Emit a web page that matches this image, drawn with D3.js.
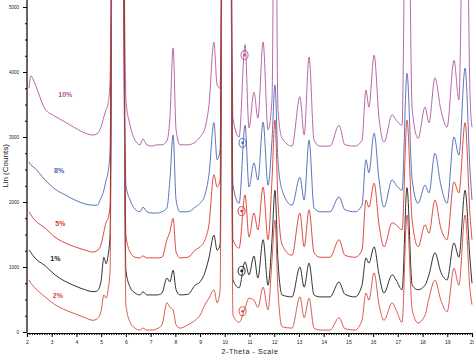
<!DOCTYPE html>
<html>
<head>
<meta charset="utf-8">
<script src="https://cdn.jsdelivr.net/npm/d3@7"></script>
<style>
  body { margin: 0; background: #fff; }
  svg { display: block; }
  text { font-family: Arial, "Liberation Sans", sans-serif; }
</style>
</head>
<body>
<div id="chart-area"></div>
<script>
// 2-theta positions (deg) shared by all five scans
const twoTheta = [2.08,2.16,2.32,2.73,3.13,3.54,3.94,4.35,4.67,4.83,4.99,5.11,5.20,5.28,5.36,5.48,5.64,5.84,6.00,6.17,
  6.37,6.57,6.69,6.85,7.06,7.26,7.46,7.66,7.78,7.91,8.03,8.19,8.51,8.80,9.00,9.20,9.36,9.56,9.69,9.81,
  9.93,10.09,10.21,10.33,10.58,10.82,10.98,11.18,11.34,11.55,11.75,11.91,12.03,12.15,12.32,12.72,13.04,13.21,13.41,13.61,
  13.85,14.26,14.62,14.86,15.27,15.55,15.71,15.83,16.04,16.24,16.44,16.77,16.93,17.17,17.37,17.58,17.82,18.10,18.26,18.50,
  18.74,18.99,19.27,19.47,19.72,19.92,20.0];

// Lin (Counts), already stacked as plotted
const counts10 = [3750,3940,3820,3430,3320,3230,3140,3060,3030,3050,3150,3310,3420,3510,3880,9000,9000,9000,3570,3180,
  2950,2880,2970,2880,2860,2880,2880,2940,3290,4370,3110,2880,2880,2920,3000,3140,3490,4460,3800,3750,
  9000,9000,9000,3290,3000,4420,3140,3690,3290,4460,3110,3570,9000,3420,2980,2860,3620,3030,4230,2950,
  2860,2860,3180,2880,2860,2950,3720,3460,4260,3290,2920,3340,3260,3180,9000,3420,2980,3460,3220,3910,
  3420,3150,4180,3570,9000,3650,3150];
const counts8 = [2620,2570,2520,2340,2200,2110,2030,1970,1950,1950,2060,2180,2340,2460,2800,9000,9000,9000,2260,2030,
  1890,1850,1920,1850,1830,1830,1850,1910,2340,3030,2030,1850,1850,1920,1980,2110,2420,3220,2650,2800,
  9000,9000,9000,2260,1980,3180,2230,2600,2340,3230,2260,2950,3800,2650,2180,1950,2380,2030,2950,1910,
  1850,1850,2080,1880,1850,1950,2650,2450,3060,2340,1920,2340,2260,2180,3980,2340,1980,2260,2140,2750,
  2260,1980,3000,2720,4060,2490,2030];
const counts5 = [1850,1800,1720,1600,1460,1370,1310,1260,1230,1250,1340,1540,1690,1750,1950,9000,9000,9000,1490,1230,
  1150,1140,1170,1140,1140,1140,1150,1420,1540,1750,1230,1140,1150,1260,1310,1420,1650,2420,2230,2340,
  9000,9000,9000,1420,1290,2110,1460,1830,1570,2230,1420,2340,3260,2030,1340,1180,1830,1310,1880,1220,
  1150,1150,1420,1180,1150,1260,2030,1920,2290,1650,1310,1680,1650,1570,3260,1720,1310,1650,1520,2030,
  1600,1420,2310,2140,3220,1800,1420];
const counts1 = [1260,1220,1140,1020,880,780,710,650,620,630,770,1150,1050,1180,1490,9000,9000,9000,950,690,
  600,570,620,570,570,570,600,830,770,950,650,570,580,720,770,920,1140,1490,1260,1340,
  9000,9000,9000,800,680,1080,880,1170,830,1420,720,1420,2180,1110,570,540,1000,690,1060,570,
  540,540,770,580,540,720,1140,1060,1310,880,600,880,800,650,2220,720,650,720,880,1220,
  920,800,1370,1150,2180,1110,750];
const counts2 = [800,750,680,540,420,340,280,220,180,200,310,570,520,650,950,9000,9000,9000,420,150,
  60,30,60,30,30,50,110,450,380,340,110,60,110,180,260,420,520,650,450,650,
  9000,9000,9000,260,150,370,520,490,380,690,340,1110,1720,650,80,60,540,220,520,60,
  30,30,220,50,30,180,600,490,910,420,180,450,340,150,1800,340,140,260,520,800,
  490,310,980,720,1800,650,420];

const labels = ["10%", "8%", "5%", "1%", "2%"];
const colors = ["#b0579f", "#4a64b4", "#d8372c", "#1c1c1c", "#d6483e"];
// label anchor positions (deg, counts) and the ringed reflection near 10.8 deg
const labelTheta = [3.55, 3.3, 3.35, 3.15, 3.25];
const labelCounts = [3610, 2450, 1630, 1090, 520];
const ringTheta = [10.8, 10.72, 10.68, 10.68, 10.72];
const ringCounts = [4260, 2910, 1860, 940, 320];

const xTicks = d3.range(2, 21);
const yTicks = [0, 1000, 2000, 3000, 4000, 5000];

const svgWidth = 474;
const svgHeight = 359;
const svg = d3.select("#chart-area")
  .append("svg")
  .attr("width", svgWidth)
  .attr("height", svgHeight);

const margin = { left: 27, right: 472, top: 0, bottom: 333 };

const x = d3.scaleLinear().domain([2, 20]).range([margin.left, margin.right]);
const y = d3.scaleLinear().domain([0, 5000]).range([332, 7]);

svg.append("clipPath").attr("id", "plot")
  .append("rect")
  .attr("x", margin.left).attr("y", margin.top)
  .attr("width", svgWidth - margin.left).attr("height", margin.bottom - margin.top);

const series = labels.map((name, i) => ({
  name: name,
  color: colors[i],
  values: [counts10, counts8, counts5, counts1, counts2][i]
}));

const line = d3.line()
  .x((d, i) => x(twoTheta[i]))
  .y(d => y(d))
  .curve(d3.curveMonotoneX);

const g = svg.append("g").attr("clip-path", "url(#plot)");

g.selectAll("path.scan")
  .data(series)
  .enter()
  .append("path")
  .attr("class", "scan")
  .attr("d", d => line(d.values))
  .attr("fill", "none")
  .attr("stroke", d => d.color)
  .attr("stroke-width", 0.9)
  .attr("stroke-linejoin", "round");

// rings round the marked reflection
g.selectAll("ellipse")
  .data(series)
  .enter()
  .append("ellipse")
  .attr("cx", (d, i) => x(ringTheta[i]))
  .attr("cy", (d, i) => y(ringCounts[i]))
  .attr("rx", 3.5)
  .attr("ry", 4.5)
  .attr("fill", "none")
  .attr("stroke", d => d.color)
  .attr("stroke-width", 0.9);

g.selectAll("circle.dot")
  .data(series)
  .enter()
  .append("circle")
  .attr("class", "dot")
  .attr("cx", (d, i) => x(ringTheta[i]))
  .attr("cy", (d, i) => y(ringCounts[i]))
  .attr("r", 1.3)
  .attr("fill", d => d.color);

svg.selectAll("text.lbl")
  .data(series)
  .enter()
  .append("text")
  .attr("class", "lbl")
  .attr("x", (d, i) => x(labelTheta[i]))
  .attr("y", (d, i) => y(labelCounts[i]))
  .attr("text-anchor", "middle")
  .attr("font-size", 7)
  .attr("font-weight", "bold")
  .attr("fill", d => d.color)
  .text(d => d.name);

// axes
const xMinor = svg.append("g")
  .attr("transform", `translate(0,${margin.bottom})`)
  .call(d3.axisBottom(x).tickValues(d3.range(20, 201).map(v => v / 10)).tickSize(2).tickFormat(""));
xMinor.select(".domain").remove();

const xAxis = svg.append("g")
  .attr("transform", `translate(0,${margin.bottom})`)
  .call(d3.axisBottom(x).tickValues(xTicks).tickSize(4).tickPadding(3).tickFormat(d3.format("d")));
xAxis.select(".domain").attr("stroke-width", 1.2);
xAxis.selectAll("text").attr("font-size", 5).attr("fill", "#222");

const yMinor = svg.append("g")
  .attr("transform", `translate(${margin.left},0)`)
  .call(d3.axisLeft(y).tickValues(d3.range(0, 5001, 250)).tickSize(2).tickFormat(""));
yMinor.select(".domain").remove();

const yAxis = svg.append("g")
  .attr("transform", `translate(${margin.left},0)`)
  .call(d3.axisLeft(y).tickValues(yTicks).tickSize(4).tickPadding(4).tickFormat(d3.format("d")));
yAxis.select(".domain").attr("d", `M0,0V${margin.bottom - 0.5}`).attr("stroke-width", 1.2);
yAxis.selectAll("text").attr("font-size", 4.5).attr("fill", "#222");

svg.append("text")
  .attr("x", 250)
  .attr("y", 354)
  .attr("text-anchor", "middle")
  .attr("font-size", 7)
  .attr("letter-spacing", 0.6)
  .attr("fill", "#222")
  .text("2-Theta - Scale");

svg.append("text")
  .attr("transform", "translate(8,166) rotate(-90)")
  .attr("text-anchor", "middle")
  .attr("font-size", 8)
  .attr("fill", "#222")
  .text("Lin (Counts)");
</script>
</body>
</html>
